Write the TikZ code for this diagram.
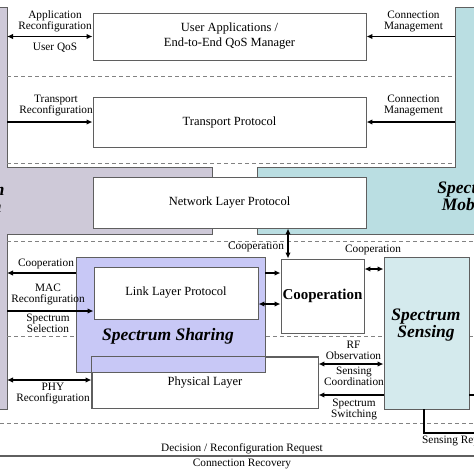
\documentclass[tikz,border=0pt]{standalone}
\usepackage{fontspec}
\setmainfont{Liberation Serif}
\usetikzlibrary{arrows.meta,calc}
\definecolor{decisfill}{RGB}{206,201,216}
\definecolor{mobfill}{RGB}{186,222,226}
\definecolor{sensfill}{RGB}{212,234,237}
\definecolor{sharefill}{RGB}{200,200,246}
\definecolor{edgegray}{RGB}{95,95,95}
\definecolor{dashgray}{RGB}{130,130,130}
\newcommand{\bxfont}{\fontsize{12.5}{15}\selectfont}
\newcommand{\lbfont}{\fontsize{11.3}{11}\selectfont}
\newcommand{\bigbi}{\fontsize{17.5}{17}\selectfont\bfseries\itshape}
\begin{document}
\begin{tikzpicture}[x=1pt,y=-1pt,
  panel/.style={draw=edgegray,line width=0.9pt},
  layerbox/.style={draw=edgegray,fill=white,line width=0.9pt,inner sep=0pt,align=center,font=\bxfont},
  lbl/.style={font=\lbfont,align=center,inner sep=0pt},
  sep/.style={draw=dashgray,line width=0.7pt,dash pattern=on 4pt off 3pt},
  tipa/.tip={Latex[length=6pt,width=5.5pt]},
  arr/.style={line width=1.2pt,-tipa},
  darr/.style={line width=1.2pt,tipa-tipa},
  plain/.style={line width=1.1pt}]
\useasboundingbox (0,0) rectangle (474,474);

% side panels
\fill[decisfill] (-10,7) -- (7,7) -- (7,167) -- (212,167) -- (212,234) -- (7,234) -- (7,409) -- (-10,409) -- cycle;
\draw[panel] (-10,7) -- (7,7) -- (7,167) -- (212,167) -- (212,234) -- (7,234) -- (7,409) -- (-10,409);
\fill[mobfill] (455,7) -- (490,7) -- (490,234) -- (257,234) -- (257,167) -- (455,167) -- cycle;
\draw[panel] (490,7) -- (455,7) -- (455,167) -- (257,167) -- (257,234) -- (490,234);
\node[font=\bigbi,align=center] (decis) at (-30,198) {Spectrum\\Decision};
\node[font=\bigbi,align=center] (mob) at (472,198) {Spectrum\\Mobility};

% edge coordinates
\coordinate (decedge) at (7,0);
\coordinate (mobedge) at (455,0);

% dashed separators
\draw[sep] (7,76) -- (455,76);
\draw[sep] (7,163) -- (455,163);
\draw[sep] (7,241) -- (480,241);
\draw[sep] (7,336) -- (480,336);
\draw[sep] (0,423) -- (480,423);

% upper boxes
\node[layerbox,minimum width=273pt,minimum height=47pt] (app) at (229.5,36.5) {User Applications /\\End-to-End QoS Manager};
\node[layerbox,minimum width=273pt,minimum height=50pt] (trans) at (229.5,122) {Transport Protocol};
\node[layerbox,minimum width=273pt,minimum height=51pt] (net) at (229.5,202.5) {Network Layer Protocol};

% lower boxes
\node[layerbox,minimum width=226pt,minimum height=51pt] (phy) at (205,382.5) {};
\node[draw=edgegray,fill=sharefill,line width=0.9pt,minimum width=189pt,minimum height=115pt,inner sep=0pt] (share) at (170.5,314.5) {};
\draw[edgegray,line width=0.9pt] (phy.north west) rectangle (phy.south east);
\node[font=\bxfont,inner sep=0pt] (phytext) at (205,383) {Physical Layer};
\node[font=\bigbi,inner sep=0pt] (sharetext) at (168,336) {Spectrum Sharing};
\node[layerbox,minimum width=164pt,minimum height=52pt] (link) at (176,293) {Link Layer Protocol};
\node[layerbox,minimum width=83pt,minimum height=74pt,font=\fontsize{15}{17}\selectfont\bfseries] (coop) at (322.5,296) {Cooperation};
\node[layerbox,fill=sensfill,minimum width=85pt,minimum height=152pt] (sens) at (426.5,333) {};
\node[font=\bigbi,align=center,inner sep=0pt] (senstext) at (426,325) {Spectrum\\Sensing};

% upper arrows and labels
\draw[darr] (app.west -| decedge) -- (app.west);
\node[lbl] (l1) at (55,21.5) {Application\\Reconfiguration};
\node[lbl] (l2) at (55,48) {User QoS};
\draw[arr] (mobedge |- app.east) -- (app.east);
\node[lbl] (l3) at (413.5,21.5) {Connection\\Management};
\draw[arr] (trans.west -| decedge) -- (trans.west);
\node[lbl] (l4) at (56,105.5) {Transport\\Reconfiguration};
\draw[arr] (mobedge |- trans.east) -- (trans.east);
\node[lbl] (l5) at (413.5,105.5) {Connection\\Management};

% cooperation arrows
\coordinate (cv) at (288,0);
\draw[darr] (net.south -| cv) -- (coop.north -| cv);
\node[lbl] (l6) at (256,247) {Cooperation};
\draw[darr] (coop.east |- 0,269) -- (sens.west |- 0,269);
\node[lbl] (l7) at (373,250) {Cooperation};
\draw[arr] (share.east |- 0,273) -- (coop.west |- 0,273);
\draw[darr] (link.east |- 0,304) -- (coop.west |- 0,304);

% left lower arrows
\draw[arr] (share.west |- 0,273) -- (decedge |- 0,273);
\node[lbl] (l8) at (46,264) {Cooperation};
\draw[arr] (decedge |- 0,311) -- (link.west |- 0,311);
\node[lbl] (l9) at (48,294.5) {MAC\\Reconfiguration};
\node[lbl] (l10) at (48,323.5) {Spectrum\\Selection};
\draw[darr] (decedge |- 0,380) -- (phy.west |- 0,380);
\node[lbl] (l11) at (53,393.5) {PHY\\Reconfiguration};

% sensing arrows
\draw[darr] (phy.east |- 0,364) -- (sens.west |- 0,364);
\node[lbl] (l12) at (353.5,350.5) {RF\\Observation};
\node[lbl] (l13) at (354,376) {Sensing\\Coordination};
\draw[arr] (sens.west |- 0,395) -- (phy.east |- 0,395);
\node[lbl] (l14) at (354,409.5) {Spectrum\\Switching};
\coordinate (sensout) at (480,395);
\draw[plain] (sens.east |- sensout) -- (sensout);
\coordinate (rpt) at (480,433);
\draw[plain] (sens.south -| 424,0) |- (rpt);
\node[lbl,anchor=west] (l15) at (422,441) {Sensing Report};

% bottom
\coordinate (bl) at (-5,456);
\coordinate (br) at (480,456);
\draw[edgegray,line width=1.6pt] (bl) -- (br);
\node[lbl] (l16) at (242,448.5) {Decision / Reconfiguration Request};
\node[lbl] (l17) at (242,464) {Connection Recovery};
\end{tikzpicture}
\end{document}
